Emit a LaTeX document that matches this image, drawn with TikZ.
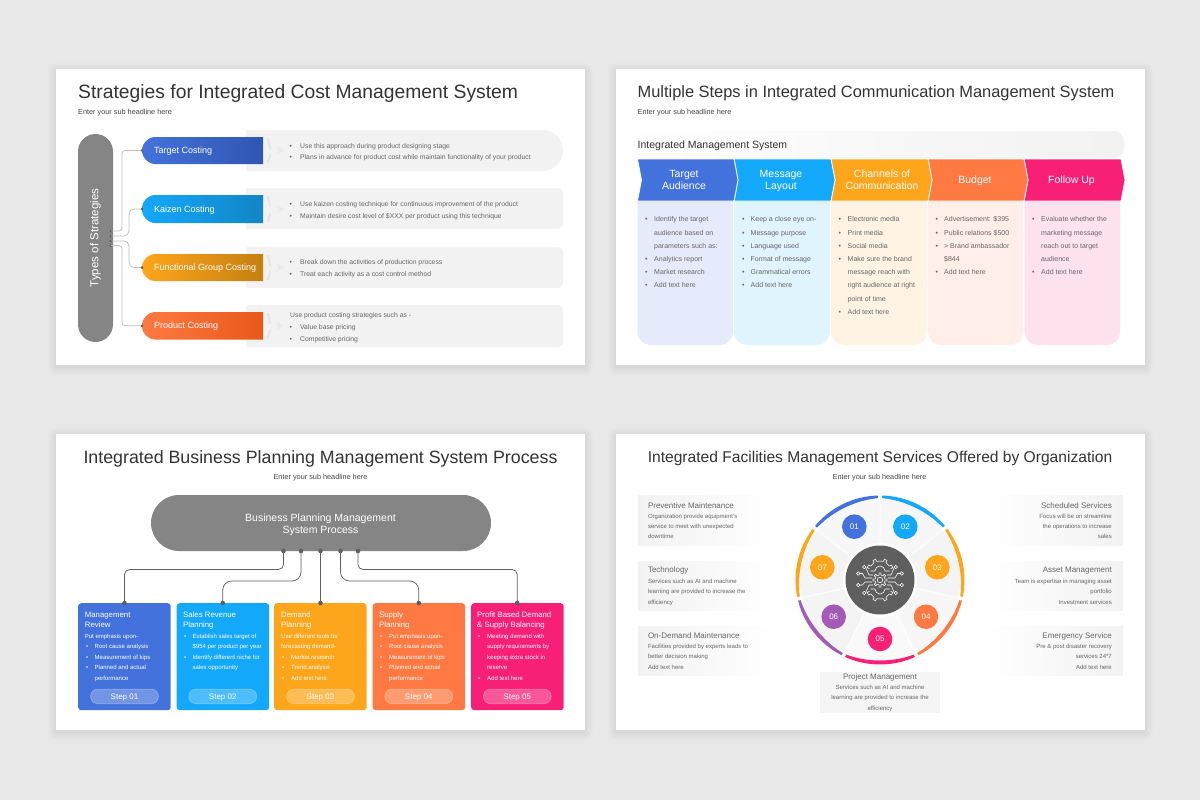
\documentclass[tikz,border=0pt]{standalone}
\usepackage{fontspec}
\setmainfont{Liberation Sans}
\definecolor{bgc}{HTML}{E9E8E9}
\definecolor{cb}{HTML}{4472DC}
\definecolor{cbd}{HTML}{2F56B0}
\definecolor{cs}{HTML}{14A8FB}
\definecolor{csd}{HTML}{1285C5}
\definecolor{cy}{HTML}{FDA61B}
\definecolor{cyd}{HTML}{C58011}
\definecolor{co}{HTML}{FE7A42}
\definecolor{cod}{HTML}{E8581A}
\definecolor{cp}{HTML}{F81F77}
\definecolor{cv}{HTML}{A25CB8}
\definecolor{gp}{HTML}{858585}
\definecolor{gd}{HTML}{5F5F5F}
\definecolor{ttl}{HTML}{333333}
\definecolor{sub}{HTML}{444444}
\definecolor{bod}{HTML}{666666}
\definecolor{pan}{HTML}{F2F2F2}
\newcounter{tn}
\tikzset{
  sz/.style={inner sep=0pt,font=\fontsize{#1}{#1}\selectfont,text height={0.72*#1},text depth=0pt},
  dotn/.style={circle,fill=#1,inner sep=0pt,minimum size=4.6pt},
  lnk/.style={draw=#1,line width=0.75pt},
}
\newcommand{\lft}[5]{\stepcounter{tn}\node[sz=#1,text=#2,anchor=west] (t\thetn) at (#3,#4) {#5};}
\newcommand{\ctr}[5]{\stepcounter{tn}\node[sz=#1,text=#2,anchor=center] (t\thetn) at (#3,#4) {#5};}
\newcommand{\rgt}[5]{\stepcounter{tn}\node[sz=#1,text=#2,anchor=east] (t\thetn) at (#3,#4) {#5};}
\newcommand{\blt}[6]{\lft{#1}{#2}{#3}{#5}{•}\lft{#1}{#2}{#4}{#5}{#6}}
\newcommand{\card}[5]{%
  \foreach \i in {1,...,8}{\fill[black,opacity=.007,rounded corners=\i pt] ({#2-\i},{#3-\i+2}) rectangle ({#4+\i},{#5+\i+2});}
  \node[fill=white,inner sep=0pt,minimum width={#4-#2},minimum height={#5-#3},anchor=north west] (#1) at (#2,#3) {};}
\newcommand{\costrow}[6]{%
  \path[left color=#3,right color=#4,rounded corners=13.5pt] (263,#1) -- (142,#1) -- (142,#2) [sharp corners] -- (263,#2) -- cycle;
  \coordinate (#5) at (142,{(#1+#2)/2});
  \lft{9}{white}{154}{{(#1+#2)/2}}{#6}
  \fill[gray!20] (266.5,{#1+1}) -- (269,{#1+1}) -- (271,{#1+12}) -- (269.5,{#1+12}) -- cycle;
  \fill[gray!20] (266.5,{#2-1}) -- (269,{#2-1}) -- (271,{#2-10}) -- (269.5,{#2-10}) -- cycle;
  \fill[gray!16] (276,{(#1+#2)/2-4.5}) -- (284,{(#1+#2)/2}) -- (276,{(#1+#2)/2+4.5}) -- (278.5,{(#1+#2)/2}) -- cycle;
}
\newcommand{\rpanel}[4]{\path[fill=pan,rounded corners=#3pt] (246,#1) -- (563,#1) -- (563,#2) [sharp corners] -- (246,#2) -- cycle;}
\newcommand{\chev}[3]{\path[fill=#3,draw=white,line width=.8pt] (#1,159) -- (#2,159) -- ({#2+4},180) -- (#2,201) -- (#1,201) -- ({#1+4},180) -- cycle;}
\newcommand{\colbody}[3]{\path[fill=#3,rounded corners=13pt] (#1,201) -- (#1,345) -- (#2,345) [sharp corners] -- (#2,201) -- cycle;}
\newcommand{\stepcard}[6]{%
  \node[fill=#3,rounded corners=3pt,inner sep=0pt,minimum width=92.5pt,minimum height=107pt,anchor=north west] (#4) at (#1,603) {};
  \node[dotn=gd] (#5) at ({(#1+#2)/2},603) {};
  \node[fill=white,fill opacity=.25,draw=white,draw opacity=.35,line width=.5pt,rounded corners=7.3pt,inner sep=0pt,minimum width=68pt,minimum height=14.7pt] (#4b) at ({(#1+#2)/2},696.4) {};
  \ctr{8}{white}{{(#1+#2)/2}}{696.2}{#6}
}
\newcommand{\fadebox}[4]{%
  \foreach \i in {0,...,29}{
    \pgfmathsetmacro\sa{#1+(#2-#1)*\i/30}
    \pgfmathsetmacro\sb{#1+(#2-#1)*(\i+1)/30}
    \pgfmathtruncatemacro\pc{100-\i*100/30}
    \fill[pan!\pc!white] (\sa,#3) rectangle (\sb,#4);
  }}
\begin{document}
\begin{tikzpicture}[x=1pt,y=-1pt]
\useasboundingbox (0,0) rectangle (1200,800);
\fill[bgc] (0,0) rectangle (1200,800);
\card{cardA}{56}{69}{585}{365}
\card{cardB}{616}{69}{1145}{365}
\card{cardC}{56}{434}{585}{730}
\card{cardD}{616}{434}{1145}{730}

%%% PANEL 1
\lft{19.3}{ttl}{78}{92}{Strategies for Integrated Cost Management System}
\lft{7.3}{sub}{78}{112}{Enter your sub headline here}
\rpanel{130}{171}{20}{}
\rpanel{188}{229}{5}{}
\rpanel{247}{288}{5}{}
\rpanel{305}{347}{5}{}
\node[rotate=90,fill=gp,rounded corners=17.5pt,inner sep=0pt,minimum width=208pt,minimum height=35pt,text=white,font=\fontsize{11.5}{11.5}\selectfont] (types) at (95.5,238) {Types of Strategies};
\costrow{137}{164}{cb}{cbd}{pA}{Target Costing}
\costrow{195}{223}{cs}{csd}{pB}{Kaizen Costing}
\costrow{254}{281}{cy}{cyd}{pC}{Functional Group Costing}
\costrow{312}{339.5}{co}{cod}{pD}{Product Costing}
\node[dotn=gd,minimum size=3pt] (dA) at (111,231) {};
\node[dotn=gd,minimum size=3pt] (dB) at (111,236) {};
\node[dotn=gd,minimum size=3pt] (dC) at (111,241) {};
\node[dotn=gd,minimum size=3pt] (dD) at (111,245.5) {};
\draw[lnk=gray!50,rounded corners=3pt] (dA.center) -- ++(11,0) |- (pA);
\draw[lnk=gray!50,rounded corners=5pt] (dB.center) -- ++(18,0) |- (pB);
\draw[lnk=gray!50,rounded corners=5pt] (dC.center) -- ++(18,0) |- (pC);
\draw[lnk=gray!50,rounded corners=3pt] (dD.center) -- ++(11,0) |- (pD);
\node[dotn=gd,minimum size=3pt] (qA) at (pA) {};
\node[dotn=gd,minimum size=3pt] (qB) at (pB) {};
\node[dotn=gd,minimum size=3pt] (qC) at (pC) {};
\node[dotn=gd,minimum size=3pt] (qD) at (pD) {};
\blt{6.8}{bod}{289.5}{300}{145.7}{Use this approach during product designing stage}
\blt{6.8}{bod}{289.5}{300}{157.5}{Plans in advance for product cost while maintain functionality of your product}
\blt{6.8}{bod}{289.5}{300}{204}{Use kaizen costing technique for continuous improvement of the product}
\blt{6.8}{bod}{289.5}{300}{216}{Maintain desire cost level of \$XXX per product using this technique}
\blt{6.8}{bod}{289.5}{300}{262.5}{Break down the activities of production process}
\blt{6.8}{bod}{289.5}{300}{274.5}{Treat each activity as a cost control method}
\lft{6.8}{bod}{290}{315.5}{Use product costing strategies such as -}
\blt{6.8}{bod}{289.5}{300}{327}{Value base pricing}
\blt{6.8}{bod}{289.5}{300}{339}{Competitive pricing}

%%% PANEL 2
\lft{16.4}{ttl}{637.5}{92}{Multiple Steps in Integrated Communication Management System}
\lft{7.3}{sub}{637.5}{112}{Enter your sub headline here}
\fadebox{1110}{637}{131}{158}
\path[fill=pan,rounded corners=10pt] (1105,131) -- (1124,131) -- (1124,158) [sharp corners] -- (1105,158) -- cycle;
\lft{10.5}{ttl}{637.5}{145}{Integrated Management System}
\colbody{637.5}{733}{cb!14!white}
\colbody{734}{830}{cs!13!white}
\colbody{831}{927}{cy!12!white}
\colbody{928}{1023}{co!12!white}
\colbody{1024.5}{1120}{cp!13!white}
\chev{1024}{1121}{cp}
\chev{928}{1024}{co}
\chev{831}{928}{cy}
\chev{734}{831}{cs}
\chev{637.5}{734}{cb}
\ctr{10.5}{white}{684}{174}{Target}\ctr{10.5}{white}{684}{186}{Audience}
\ctr{10.5}{white}{781}{174}{Message}\ctr{10.5}{white}{781}{186}{Layout}
\ctr{10.5}{white}{882}{174}{Channels of}\ctr{10.5}{white}{882}{186}{Communication}
\ctr{10.5}{white}{975}{180}{Budget}
\ctr{10.5}{white}{1071.5}{180}{Follow Up}
\blt{7}{bod}{645}{654}{219.3}{Identify the target}
\lft{7}{bod}{654}{232.5}{audience based on}
\lft{7}{bod}{654}{245.7}{parameters such as:}
\blt{7}{bod}{645}{654}{259}{Analytics report}
\blt{7}{bod}{645}{654}{272.2}{Market research}
\blt{7}{bod}{645}{654}{285.4}{Add text here}
\blt{7}{bod}{742}{750.5}{219.3}{Keep a close eye on-}
\blt{7}{bod}{742}{750.5}{232.5}{Message purpose}
\blt{7}{bod}{742}{750.5}{245.7}{Language used}
\blt{7}{bod}{742}{750.5}{259}{Format of message}
\blt{7}{bod}{742}{750.5}{272.2}{Grammatical errors}
\blt{7}{bod}{742}{750.5}{285.4}{Add text here}
\blt{7}{bod}{838.5}{847.5}{219.3}{Electronic media}
\blt{7}{bod}{838.5}{847.5}{232.5}{Print media}
\blt{7}{bod}{838.5}{847.5}{245.7}{Social media}
\blt{7}{bod}{838.5}{847.5}{259}{Make sure the brand}
\lft{7}{bod}{847.5}{272.2}{message reach with}
\lft{7}{bod}{847.5}{285.4}{right audience at right}
\lft{7}{bod}{847.5}{298.6}{point of time}
\blt{7}{bod}{838.5}{847.5}{311.8}{Add text here}
\blt{7}{bod}{935.5}{944}{219.3}{Advertisement: \$395}
\blt{7}{bod}{935.5}{944}{232.5}{Public relations \$500}
\blt{7}{bod}{935.5}{944}{245.7}{> Brand ambassador}
\lft{7}{bod}{944}{259}{\$844}
\blt{7}{bod}{935.5}{944}{272.2}{Add text here}
\blt{7}{bod}{1032}{1041}{219.3}{Evaluate whether the}
\lft{7}{bod}{1041}{232.5}{marketing message}
\lft{7}{bod}{1041}{245.7}{reach out to target}
\lft{7}{bod}{1041}{259}{audience}
\blt{7}{bod}{1032}{1041}{272.2}{Add text here}

%%% PANEL 3
\ctr{17.8}{ttl}{320.5}{457}{Integrated Business Planning Management System Process}
\ctr{7.3}{sub}{320.5}{477}{Enter your sub headline here}
\node[fill=gp,rounded corners=28pt,inner sep=0pt,minimum width=340pt,minimum height=56pt] (plan) at (321,523) {};
\ctr{10.5}{white}{320.5}{517.5}{Business Planning Management}
\ctr{10.5}{white}{320.5}{529.5}{System Process}
\stepcard{78}{171}{cb}{scA}{vA}{Step 01}
\stepcard{176.5}{269}{cs}{scB}{vB}{Step 02}
\stepcard{274}{367}{cy}{scC}{vC}{Step 03}
\stepcard{372.5}{465}{co}{scD}{vD}{Step 04}
\stepcard{471}{563.5}{cp}{scE}{vE}{Step 05}
\node[dotn=gd] (uA) at (283.5,551) {};
\node[dotn=gd] (uB) at (301,551) {};
\node[dotn=gd] (uC) at (320.5,551) {};
\node[dotn=gd] (uD) at (340.5,551) {};
\node[dotn=gd] (uE) at (358,551) {};
\draw[lnk=gd,rounded corners=5pt] (uA.center) |- (124.5,569.5) -- (vA.center);
\draw[lnk=gd,rounded corners=9pt] (uB.center) |- (222.7,581) -- (vB.center);
\draw[lnk=gd] (uC.center) -- (vC.center);
\draw[lnk=gd,rounded corners=9pt] (uD.center) |- (418.7,581) -- (vD.center);
\draw[lnk=gd,rounded corners=5pt] (uE.center) |- (517.2,569.5) -- (vE.center);
\lft{7.8}{white}{84.7}{615}{Management}\lft{7.8}{white}{84.7}{624.5}{Review}
\lft{6}{white}{84.7}{636}{Put emphasis upon-}
\blt{6}{white}{86}{94.5}{646.4}{Root cause analysis}
\blt{6}{white}{86}{94.5}{657}{Measurement of kips}
\blt{6}{white}{86}{94.5}{667.7}{Planned and actual}
\lft{6}{white}{94.5}{678.3}{performance}
\lft{7.8}{white}{183}{615}{Sales Revenue}\lft{7.8}{white}{183}{624.5}{Planning}
\blt{6}{white}{184}{192.5}{636}{Establish sales target of}
\lft{6}{white}{192.5}{646.4}{\$954 per product per year}
\blt{6}{white}{184}{192.5}{657}{Identify different niche for}
\lft{6}{white}{192.5}{667.7}{sales opportunity}
\lft{7.8}{white}{281}{615}{Demand}\lft{7.8}{white}{281}{624.5}{Planning}
\lft{6}{white}{281}{636}{Use different tools for}
\lft{6}{white}{281}{646.4}{forecasting demand-}
\blt{6}{white}{282}{291}{657}{Market research}
\blt{6}{white}{282}{291}{667.7}{Trend analysis}
\blt{6}{white}{282}{291}{678.3}{Add text here}
\lft{7.8}{white}{379}{615}{Supply}\lft{7.8}{white}{379}{624.5}{Planning}
\blt{6}{white}{380}{389}{636}{Put emphasis upon-}
\blt{6}{white}{380}{389}{646.4}{Root cause analysis}
\blt{6}{white}{380}{389}{657}{Measurement of kips}
\blt{6}{white}{380}{389}{667.7}{Planned and actual}
\lft{6}{white}{389}{678.3}{performance}
\lft{7.8}{white}{477}{615}{Profit Based Demand}\lft{7.8}{white}{477}{624.5}{\& Supply Balancing}
\blt{6}{white}{478}{487}{636}{Meeting demand with}
\lft{6}{white}{487}{646.4}{supply requirements by}
\lft{6}{white}{487}{657}{keeping extra stock in}
\lft{6}{white}{487}{667.7}{reserve}
\blt{6}{white}{478}{487}{678.3}{Add text here}

%%% PANEL 4
\ctr{15.6}{ttl}{880}{457}{Integrated Facilities Management Services Offered by Organization}
\ctr{7.3}{sub}{879.5}{477}{Enter your sub headline here}
\fadebox{637.5}{772}{495}{545.7}
\fadebox{637.5}{772}{560.7}{610.7}
\fadebox{637.5}{772}{626}{676}
\fadebox{1122.5}{988}{495}{545.7}
\fadebox{1122.5}{988}{560.7}{610.7}
\fadebox{1122.5}{988}{626}{676}
\fill[pan!80!white] (820,671.7) rectangle (940,712.7);
\lft{8}{bod}{647.8}{505.3}{Preventive Maintenance}
\lft{6}{bod}{647.8}{516}{Organization provide equipment's}
\lft{6}{bod}{647.8}{526.3}{service to meet with unexpected}
\lft{6}{bod}{647.8}{536.7}{downtime}
\lft{8}{bod}{647.8}{570}{Technology}
\lft{6}{bod}{647.8}{581}{Services such as AI and machine}
\lft{6}{bod}{647.8}{591.3}{learning are provided to increase the}
\lft{6}{bod}{647.8}{602}{efficiency}
\lft{8}{bod}{647.8}{635.3}{On-Demand Maintenance}
\lft{6}{bod}{647.8}{646.3}{Facilities provided by experts leads to}
\lft{6}{bod}{647.8}{656.7}{better decision making}
\lft{6}{bod}{647.8}{667.3}{Add text here}
\rgt{8}{bod}{1112}{505.3}{Scheduled Services}
\rgt{6}{bod}{1112}{516}{Focus will be on streamline}
\rgt{6}{bod}{1112}{526.3}{the operations to increase}
\rgt{6}{bod}{1112}{536.7}{sales}
\rgt{8}{bod}{1112}{570}{Asset Management}
\rgt{6}{bod}{1112}{581}{Team is expertise in managing asset}
\rgt{6}{bod}{1112}{591.3}{portfolio}
\rgt{6}{bod}{1112}{602}{Investment services}
\rgt{8}{bod}{1112}{635.3}{Emergency Service}
\rgt{6}{bod}{1112}{646.3}{Pre \& post disaster recovery}
\rgt{6}{bod}{1112}{656.7}{services 24*7}
\rgt{6}{bod}{1112}{667.3}{Add text here}
\ctr{8}{bod}{880}{677}{Project Management}
\ctr{6}{bod}{880}{687.3}{Services such as AI and machine}
\ctr{6}{bod}{880}{697.7}{learning are provided to increase the}
\ctr{6}{bod}{880}{708.3}{efficiency}
% wheel
\begin{scope}[shift={(880,580)},y=1pt]
  \foreach \a/\f in {90/3,38.57/4.5,-12.86/3,-64.29/2.5,-115.71/4.5,-167.14/4.5,-218.57/3}{
    \pgfmathsetmacro\b{\a-51.43}
    \path[fill=black!\f,draw=white,line width=.8pt] (\a:36.5) arc[start angle=\a,end angle=\b,radius=36.5] -- (\b:80.5) arc[start angle=\b,end angle=\a,radius=80.5] -- cycle;
  }
  \foreach \a/\c in {88.7/cs,37.3/cy,-14.2/co,-65.6/cp,-117/cv,-168.4/cy,140.2/cb}{
    \pgfmathsetmacro\b{\a-48.8}
    \fill[\c] (\a:84.5) arc[start angle=\a,end angle=\b,radius=84.5] -- plot[domain=\b:\a,samples=14] (\x:{84.5-2.6-1.4*sin(180*(\x-\b)/48.8)}) -- cycle;
  }
  \node[circle,fill=gd,inner sep=0pt,minimum size=69pt] (hub) at (0,0) {};
  \begin{scope}[draw=white,line width=.55pt]
    \draw (0,0) circle (2.8);
    \foreach \i in {0,...,7}{
      \pgfmathsetmacro\p{\i*45}
      \draw (\p+11:5) arc[start angle=\p+11,end angle=\p+34,radius=5];
      \draw (\p-11:5) -- (\p-8:7.2) arc[start angle=\p-8,end angle=\p+8,radius=7.2] -- (\p+11:5);
    }
    \foreach \s in {1,-1}{
      \begin{scope}[yscale=\s]
        \foreach \p in {25,65,115,155}{
          \draw ([shift={(0,8)}]\p-8:11) -- ([shift={(0,8)}]\p-6:13.5) -- ([shift={(0,8)}]\p+6:13.5) -- ([shift={(0,8)}]\p+8:11);
        }
        \draw ([shift={(0,8)}]33:11) arc[start angle=33,end angle=57,radius=11];
        \draw ([shift={(0,8)}]73:11) arc[start angle=73,end angle=107,radius=11];
        \draw ([shift={(0,8)}]123:11) arc[start angle=123,end angle=147,radius=11];
        \draw (-9.5,9) -- (-5,9) arc[start angle=180,end angle=0,radius=5] -- (9.5,9);
      \end{scope}
      \begin{scope}[xscale=\s]
        \draw (8,2) -- (15,2) -- (17.5,6.5) -- (20,6.5); \draw (21.7,6.5) circle (1.7);
        \draw (8,-2) -- (15,-2) -- (17.5,-5) -- (20,-5); \draw (21.7,-5) circle (1.7);
        \draw (7,5) -- (11,5) -- (13.5,11) -- (14.3,12.5); \draw (15.8,13) circle (1.7);
        \draw (7,-5) -- (11,-5) -- (13.5,-11) -- (14.3,-12.5); \draw (15.8,-13) circle (1.7);
      \end{scope}
    }
  \end{scope}
\end{scope}
\node[circle,fill=cb,inner sep=0pt,minimum size=24.6pt,sz=8,text=white] (nA) at (854.3,526.7) {01};
\node[circle,fill=cs,inner sep=0pt,minimum size=24.6pt,sz=8,text=white] (nB) at (905.3,526.7) {02};
\node[circle,fill=cy,inner sep=0pt,minimum size=24.6pt,sz=8,text=white] (nC) at (937.3,567.3) {03};
\node[circle,fill=co,inner sep=0pt,minimum size=24.6pt,sz=8,text=white] (nD) at (926,616.7) {04};
\node[circle,fill=cp,inner sep=0pt,minimum size=24.6pt,sz=8,text=white] (nE) at (880,639) {05};
\node[circle,fill=cv,inner sep=0pt,minimum size=24.6pt,sz=8,text=white] (nF) at (833.7,616.7) {06};
\node[circle,fill=cy,inner sep=0pt,minimum size=24.6pt,sz=8,text=white] (nG) at (822.3,567.3) {07};
\end{tikzpicture}
\end{document}
